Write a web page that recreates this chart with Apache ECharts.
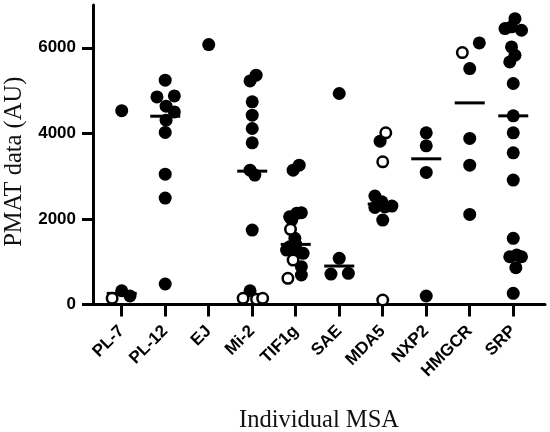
<!DOCTYPE html>
<html>
<head>
<meta charset="utf-8">
<script src="https://cdn.jsdelivr.net/npm/echarts@6/dist/echarts.min.js"></script>
<style>
html,body{margin:0;padding:0;background:#fff;}
#chart{width:550px;height:432px;}
</style>
</head>
<body>
<div id="chart"></div>
<script>
// Categories (x positions 1..10)
const categories = ['PL-7','PL-12','EJ','Mi-2','TIF1g','SAE','MDA5','NXP2','HMGCR','SRP'];
const yTicks = [0, 2000, 4000, 6000];

// Filled points: [x position (category number + jitter), PMAT value]
const filledPoints = [
  // PL-7
  [1.00, 4530], [1.00, 322], [1.19, 198],
  // PL-12
  [2.00, 5242], [1.81, 4852], [2.21, 4876], [2.02, 4635], [2.21, 4502], [2.02, 4308], [2.00, 4021], [2.00, 3047], [2.00, 2487], [2.00, 479],
  // EJ
  [3.00, 6075],
  // Mi-2
  [3.95, 5226], [4.09, 5359], [4.00, 4736], [4.00, 4425], [4.00, 4114], [4.00, 3778], [3.95, 3140], [4.06, 3024], [4.00, 1740], [3.95, 322],
  // TIF1g
  [5.08, 3257], [4.94, 3140], [5.13, 2144], [5.02, 2130], [4.86, 2050], [4.91, 1980], [4.98, 1546], [5.00, 1405], [4.86, 1350], [4.79, 1273], [4.98, 1233], [5.17, 1195], [5.13, 883], [5.13, 689],
  // SAE
  [6.00, 4931], [6.00, 1079], [5.81, 712], [6.21, 728],
  // MDA5
  [6.94, 3818], [6.82, 2533], [6.98, 2400], [7.21, 2300], [6.82, 2269], [7.05, 2280], [7.00, 1973],
  // NXP2
  [8.00, 4012], [8.00, 3708], [8.00, 3087], [8.00, 198],
  // HMGCR
  [9.22, 6113], [9.00, 5515], [9.00, 3881], [9.00, 3257], [9.00, 2106],
  // SRP
  [10.04, 6680], [9.81, 6450], [9.96, 6490], [10.19, 6410], [9.96, 6020], [10.04, 5826], [9.92, 5670], [10.00, 5165],
  [10.00, 4409], [10.00, 4012], [10.00, 3545], [10.00, 2907], [10.00, 1546], [9.92, 1116], [10.08, 1156], [10.19, 1116], [10.06, 860], [10.00, 262]
];

// Open points: [x position, PMAT value]
const openPoints = [
  [0.78, 145],
  [3.79, 145], [4.10, 121], [4.24, 145],
  [4.88, 1756], [4.94, 1039], [4.82, 612],
  [7.07, 4012], [7.00, 3334], [7.00, 105],
  [8.83, 5889]
];

// Median per category (null = none drawn)
const medians = [260, 4401, null, 3117, 1405, 899, 2347, 3405, 4712, 4409];

const medianData = medians.map((m, i) => m === null ? null : [i + 1, m]).filter(d => d);

const chart = echarts.init(document.getElementById('chart'), null, {renderer: 'canvas'});
const labelFont = {fontFamily: 'Liberation Sans, Arial, sans-serif', fontWeight: 'bold', fontSize: 17, color: '#000'};

chart.setOption({
  animation: false,
  backgroundColor: '#fff',
  grid: {left: 93, right: 5, top: 5, bottom: 127.5, containLabel: false, outerBoundsMode: 'none'},
  xAxis: {
    type: 'value',
    min: 0.34,
    max: 10.73,
    name: 'Individual MSA',
    nameLocation: 'middle',
    nameGap: 104,
    nameTextStyle: {fontFamily: 'Liberation Serif, Times New Roman, serif', fontSize: 24.5, color: '#111'},
    axisLine: {show: true, onZero: false, lineStyle: {color: '#000', width: 3}},
    axisTick: {show: true, inside: false, length: 12, lineStyle: {color: '#000', width: 3}, customValues: [1,2,3,4,5,6,7,8,9,10]},
    axisLabel: Object.assign({
      rotate: 45,
      margin: 24,
      customValues: [1,2,3,4,5,6,7,8,9,10],
      formatter: v => categories[Math.round(v) - 1] || ''
    }, labelFont),
    splitLine: {show: false}
  },
  yAxis: {
    type: 'value',
    min: 0,
    max: 7000,
    name: 'PMAT data (AU)',
    nameLocation: 'middle',
    nameGap: 62,
    nameTextStyle: {fontFamily: 'Liberation Serif, Times New Roman, serif', fontSize: 24.5, color: '#111', padding: [0, 14, 0, 0]},
    axisLine: {show: true, lineStyle: {color: '#000', width: 3}},
    axisTick: {show: true, inside: false, length: 11, lineStyle: {color: '#000', width: 3}, customValues: yTicks},
    axisLabel: Object.assign({margin: 17, customValues: yTicks, formatter: v => String(v)}, labelFont),
    splitLine: {show: false}
  },
  series: [
    {
      type: 'scatter',
      data: medianData,
      symbol: 'rect',
      symbolSize: [30, 3],
      itemStyle: {color: '#000', opacity: 1},
      silent: true,
      z: 1
    },
    {
      type: 'scatter',
      data: filledPoints,
      symbol: 'circle',
      symbolSize: 13,
      itemStyle: {color: '#000', opacity: 1},
      silent: true,
      z: 2
    },
    {
      type: 'scatter',
      data: openPoints,
      symbol: 'circle',
      symbolSize: 10.5,
      itemStyle: {color: '#fff', borderColor: '#000', borderWidth: 2.5, opacity: 1},
      silent: true,
      z: 3
    }
  ]
});
</script>
</body>
</html>
